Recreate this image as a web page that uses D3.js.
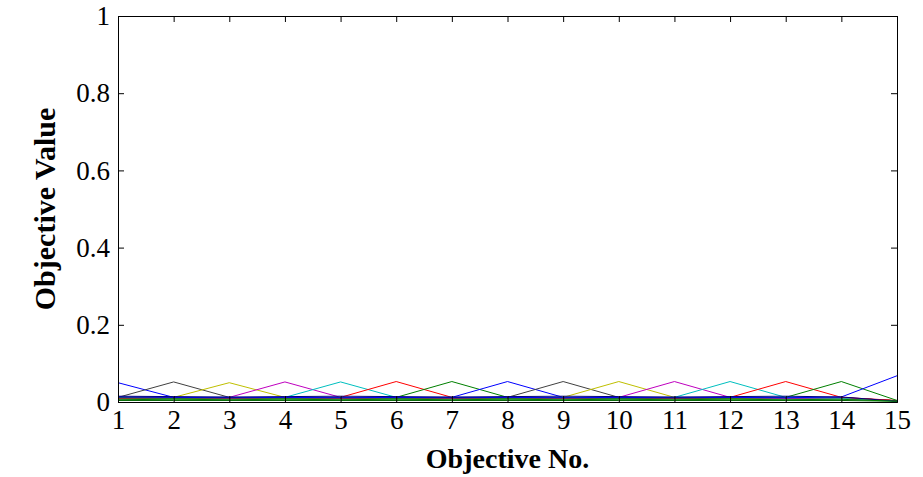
<!DOCTYPE html>
<html><head><meta charset="utf-8">
<script src="https://cdn.jsdelivr.net/npm/d3@7"></script>
<style>body{margin:0;background:#fff}</style>
</head><body>
<script>
const objectives = d3.range(1, 16)
const yTicks = [0, 0.2, 0.4, 0.6, 0.8, 1]
const colors = ['#0000ff','#404040','#bfbf00','#bf00bf','#00bfbf','#ff0000','#008000','#0000ff','#404040','#bfbf00','#bf00bf','#00bfbf','#ff0000','#008000','#0000ff','#006400','#000080','#008000']
// one row per solution, values per objective
const series = [
  [0.050,0.012,0.010,0.011,0.010,0.011,0.010,0.011,0.010,0.011,0.010,0.011,0.010,0.012,0.003],
  [0.012,0.052,0.012,0.010,0.011,0.010,0.011,0.010,0.011,0.010,0.011,0.010,0.011,0.010,0.003],
  [0.010,0.012,0.050,0.012,0.010,0.011,0.010,0.011,0.010,0.011,0.010,0.011,0.010,0.011,0.003],
  [0.011,0.010,0.012,0.052,0.012,0.010,0.011,0.010,0.011,0.010,0.011,0.010,0.011,0.010,0.003],
  [0.010,0.011,0.010,0.012,0.052,0.012,0.010,0.011,0.010,0.011,0.010,0.011,0.010,0.011,0.003],
  [0.011,0.010,0.011,0.010,0.012,0.053,0.012,0.010,0.011,0.010,0.011,0.010,0.011,0.010,0.003],
  [0.010,0.011,0.010,0.011,0.010,0.012,0.053,0.012,0.010,0.011,0.010,0.011,0.010,0.011,0.003],
  [0.011,0.010,0.011,0.010,0.011,0.010,0.012,0.053,0.012,0.010,0.011,0.010,0.011,0.010,0.003],
  [0.010,0.011,0.010,0.011,0.010,0.011,0.010,0.012,0.053,0.012,0.010,0.011,0.010,0.011,0.003],
  [0.011,0.010,0.011,0.010,0.011,0.010,0.011,0.010,0.012,0.053,0.012,0.010,0.011,0.010,0.003],
  [0.010,0.011,0.010,0.011,0.010,0.011,0.010,0.011,0.010,0.012,0.053,0.012,0.010,0.011,0.003],
  [0.011,0.010,0.011,0.010,0.011,0.010,0.011,0.010,0.011,0.010,0.012,0.053,0.012,0.010,0.003],
  [0.010,0.011,0.010,0.011,0.010,0.011,0.010,0.011,0.010,0.011,0.010,0.012,0.053,0.012,0.004],
  [0.011,0.010,0.011,0.010,0.011,0.010,0.011,0.010,0.011,0.010,0.011,0.010,0.012,0.053,0.004],
  [0.013,0.012,0.011,0.012,0.011,0.012,0.011,0.012,0.011,0.012,0.011,0.012,0.011,0.013,0.068],
  [0.004,0.004,0.004,0.004,0.004,0.004,0.004,0.004,0.004,0.004,0.004,0.004,0.004,0.004,0.002],
  [0.015,0.014,0.013,0.014,0.015,0.014,0.013,0.014,0.015,0.014,0.013,0.014,0.015,0.013,0.002],
  [0.006,0.007,0.006,0.007,0.006,0.007,0.006,0.007,0.006,0.007,0.006,0.007,0.006,0.007,0.002]
]

const W = 923, H = 477
const m = {left: 118, right: 26, top: 16, bottom: 75}
const font = '"Liberation Serif", "Times New Roman", serif'
const svg = d3.select('body').append('svg').attr('width', W).attr('height', H)
  .style('font-family', font)

const x = d3.scaleLinear().domain([1, 15]).range([m.left, W - m.right])
const y = d3.scaleLinear().domain([0, 1]).range([H - m.bottom, m.top])

const line = d3.line().x((d, i) => x(objectives[i])).y(d => y(d))
svg.append('g').selectAll('path').data(series).join('path')
  .attr('d', line).attr('fill', 'none')
  .attr('stroke', (d, i) => colors[i]).attr('stroke-width', 1)

// box + ticks inside
const xAxisB = d3.axisBottom(x).tickValues(objectives).tickSize(-6).tickPadding(8)
const xAxisT = d3.axisTop(x).tickValues(objectives).tickSize(-6).tickFormat('')
const yAxisL = d3.axisLeft(y).tickValues(yTicks).tickSize(-6).tickPadding(8).tickFormat(d3.format('~g'))
const yAxisR = d3.axisRight(y).tickValues(yTicks).tickSize(-6).tickFormat('')
const styleAx = g => {
  g.attr('font-family', font)
  g.select('.domain').attr('stroke', '#000')
  g.selectAll('text').attr('font-size', 27).attr('fill', '#000')
}
svg.append('g').attr('transform', `translate(0,${H - m.bottom})`).call(xAxisB).call(styleAx)
svg.append('g').attr('transform', `translate(0,${m.top})`).call(xAxisT).call(styleAx)
svg.append('g').attr('transform', `translate(${m.left},0)`).call(yAxisL).call(styleAx)
svg.append('g').attr('transform', `translate(${W - m.right},0)`).call(yAxisR).call(styleAx)

svg.append('text').attr('x', (m.left + W - m.right) / 2).attr('y', 468)
  .attr('text-anchor', 'middle').attr('font-size', 28).attr('font-weight', 'bold').text('Objective No.')
svg.append('text').attr('transform', `translate(55,${(m.top + H - m.bottom) / 2}) rotate(-90)`)
  .attr('text-anchor', 'middle').attr('font-size', 30).attr('font-weight', 'bold').text('Objective  Value')
</script>
</body></html>
